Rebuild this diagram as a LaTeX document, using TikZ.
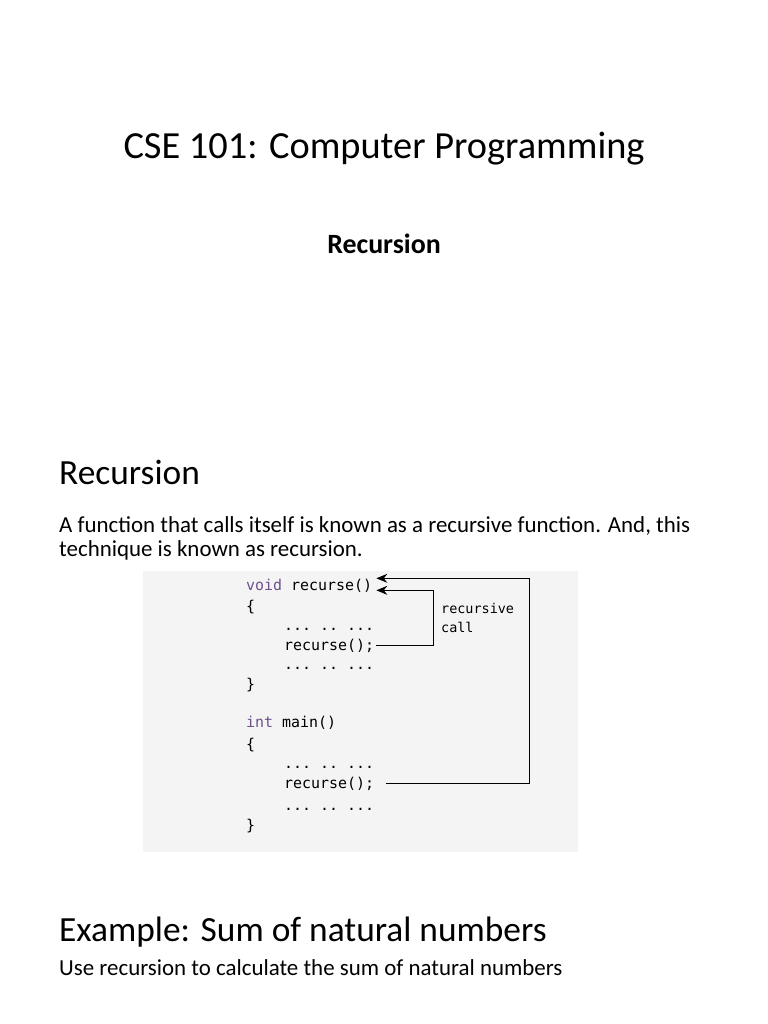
\documentclass[tikz,border=0pt]{standalone}
\usepackage{fontspec}
\setmainfont{Carlito}
\setmonofont{DejaVu Sans Mono}
\usetikzlibrary{arrows.meta}
\definecolor{codebg}{RGB}{244,244,244}
\definecolor{kw}{RGB}{110,80,140}
\tikzset{
    code/.style={anchor=base west, inner sep=0pt, font=\ttfamily\fontsize{15}{17}\selectfont},
    body/.style={anchor=base west, inner sep=0pt, font=\fontsize{23}{27}\selectfont},
    head/.style={anchor=base west, inner sep=0pt, font=\fontsize{35.5}{40}\selectfont},
    link/.style={line width=1.2pt, -{Stealth[length=11pt,width=9pt]}}
}
\begin{document}
\begin{tikzpicture}[x=1bp, y=-1bp]
        \useasboundingbox[fill=white] (0,0) rectangle (768,1024);
        \node[anchor=base, inner sep=0pt, font=\fontsize{38.5}{42}\selectfont] (title) at (384,158) {CSE 101: Computer Programming};
        \node[anchor=base, inner sep=0pt, font=\bfseries\fontsize{28}{32}\selectfont] (sub) at (384,253) {Recursion};
        \node[head] (h1) at (59,484) {Recursion};
        \node[body] (p1) at (59,532) {A function that calls itself is known as a recursive function. And, this};
        \node[body] (p2) at (59,556) {technique is known as recursion.};

        \fill[codebg] (143,571) rectangle (578,852);
        \node[code] (c1) at (246,590) {\textcolor{kw}{void} recurse()};
        \node[code] (c2) at (246,611) {\{};
        \node[code] (c3) at (284,630) {... .. ...};
        \node[code] (c4) at (284,650) {recurse();};
        \node[code] (c5) at (284,669) {... .. ...};
        \node[code] (c6) at (246,689) {\}};
        \node[code] (m1) at (246,727) {\textcolor{kw}{int} main()};
        \node[code] (m2) at (246,749) {\{};
        \node[code] (m3) at (284,768) {... .. ...};
        \node[code] (m4) at (284,788) {recurse();};
        \node[code] (m5) at (284,810) {... .. ...};
        \node[code] (m6) at (246,830) {\}};
        \node[code, font=\ttfamily\fontsize{13.5}{15}\selectfont] (rc) at (441,613) {recursive};
        \node[code, font=\ttfamily\fontsize{13.5}{15}\selectfont] (cl) at (441,632) {call};

        \draw[link] ([xshift=2bp]c4.east) -| ([xshift=61bp,yshift=-5bp]c1.east) -- ([xshift=4bp,yshift=-5bp]c1.east);
        \draw[link] ([xshift=12bp]m4.east) -| ([xshift=157bp,yshift=7bp]c1.east) -- ([xshift=4bp,yshift=7bp]c1.east);

        \node[head] (h2) at (59,941) {Example: Sum of natural numbers};
        \node[body] (p3) at (59,975) {Use recursion to calculate the sum of natural numbers};
    \end{tikzpicture}
\end{document}
